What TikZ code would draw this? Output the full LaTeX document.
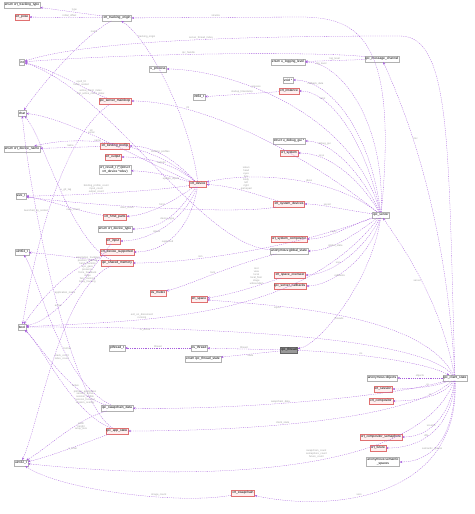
\documentclass[tikz,border=0pt]{standalone}
\usepackage{fontspec}
\setmainfont{Liberation Sans}
\usetikzlibrary{arrows.meta}
\definecolor{usoLinea}{HTML}{A860DD}
\definecolor{rotuloGris}{HTML}{A0A0A0}
\definecolor{rojoBorde}{HTML}{E07070}
\definecolor{rojoClaro}{HTML}{FFF0F0}
\definecolor{grisNodo}{HTML}{999999}
\begin{document}
\begin{tikzpicture}[x=1pt,y=-1pt,
    cls/.style={draw=gray!60, fill=white, line width=0.35pt, inner sep=0.9pt, minimum height=5.6pt, font=\fontsize{3.3}{3.8}\selectfont, align=center},
    clsr/.style={cls, draw=rojoBorde, fill=rojoClaro},
    cur/.style={cls, draw=gray!80!black, fill=grisNodo},
    use/.style={draw=usoLinea, line width=0.3pt, dash pattern=on 1.2pt off 1pt, -{Stealth[length=2.6pt,width=2.2pt]}},
    lbl/.style={font=\fontsize{2.6}{2.9}\selectfont, text=rotuloGris, align=center, inner sep=0.5pt}
  ]
  \useasboundingbox (0,0) rectangle (474,514);
  % nodos
  \node[cls] (ttype) at (22,5) {enum xrt\_tracking\_type};
  \node[clsr] (pose) at (22,17) {xrt\_pose};
  \node[cls] (torig) at (117,18) {xrt\_tracking\_origin};
  \node[cls] (int) at (22,62) {int};
  \node[cls] (uproc) at (158,69) {u\_process};
  \node[clsr] (mainloop) at (115,101) {ipc\_server\_mainloop};
  \node[cls] (char) at (22,113) {char};
  \node[cls] (loglevel) at (288,62) {enum u\_logging\_level};
  \node[cls] (msgch) at (382,59) {ipc\_message\_channel};
  \node[cls] (voidp) at (288,80) {void *};
  \node[clsr] (inst) at (289,91) {xrt\_instance};
  \node[cls] (int64) at (199,97) {int64\_t};
  \node[cls] (devname) at (22,149) {enum xrt\_device\_name};
  \node[clsr] (bprof) at (115,146) {xrt\_binding\_profile};
  \node[clsr] (output) at (113,157) {xrt\_output};
  \node[cls] (fnptr) at (115,170) {xrt\_result\_t (*)(struct\\xrt\_device *xdev)};
  \node[cls] (dbg) at (289,141) {struct u\_debug\_gui *};
  \node[clsr] (sys) at (289,153) {xrt\_system};
  \node[clsr] (dev) at (198,184) {xrt\_device};
  \node[cls] (size) at (21,196) {size\_t};
  \node[clsr] (sysd) at (289,204) {xrt\_system\_devices};
  \node[cls] (server) at (381,215) {ipc\_server};
  \node[clsr] (hmd) at (115,217) {xrt\_hmd\_parts};
  \node[cls] (devtype) at (115,229) {enum xrt\_device\_type};
  \node[clsr] (sysc) at (289,239) {xrt\_system\_compositor};
  \node[clsr] (input) at (113,241) {xrt\_input};
  \node[cls] (glob) at (289,251) {anonymous:global\_state};
  \node[clsr] (supp) at (117,252) {xrt\_device\_supported};
  \node[cls] (u64) at (22,252) {uint64\_t};
  \node[clsr] (shm) at (117,263) {ipc\_shared\_memory};
  \node[clsr] (xso) at (290,275) {xrt\_space\_overseer};
  \node[clsr] (cb) at (290,286) {ipc\_server\_callbacks};
  \node[clsr] (mutex) at (158,293) {os\_mutex};
  \node[clsr] (space) at (199,299) {xrt\_space};
  \node[cls] (bool) at (22,327) {bool};
  \node[cls] (pth) at (117,348) {pthread\_t};
  \node[cls] (osth) at (199,348) {os\_thread};
  \node[cur] (ipcth) at (289,350) {ipc\_thread};
  \node[cls] (thstate) at (203,359) {enum ipc\_thread\_state};
  \node[cls] (objs) at (382,378) {anonymous:objects};
  \node[cls] (ics) at (455,378) {ipc\_client\_state};
  \node[clsr] (sess) at (383,389) {xrt\_session};
  \node[clsr] (comp) at (381,401) {xrt\_compositor};
  \node[cls] (swd) at (117,408) {ipc\_swapchain\_data};
  \node[clsr] (app) at (117,431) {ipc\_app\_state};
  \node[clsr] (sem) at (381,437) {xrt\_compositor\_semaphore};
  \node[clsr] (fut) at (378,448) {xrt\_future};
  \node[cls] (semsp) at (383,462) {anonymous:semantic\\\_spaces};
  \node[cls] (u32) at (21,463) {uint32\_t};
  \node[clsr] (swc) at (243,493) {xrt\_swapchain};

  % xrt_tracking_origin
  \draw[use] (torig) -- node[lbl,above,pos=0.45]{type} (ttype);
  \draw[use] (torig) -- node[lbl,above,pos=0.45]{initial\_offset} (pose);
  \draw[use] (torig) .. controls (85,35) and (45,80) .. node[lbl,pos=0.2,above]{name} (char);
  \draw[use] (dev) .. controls (190,120) and (150,40) .. node[lbl,pos=0.82,right]{tracking\_origin} (torig);
  \draw[use] (server) .. controls (398,40) and (360,17) .. (300,17) -- node[lbl,above]{xtracks} (torig);

  % int
  \draw[use] (msgch) .. controls (330,52) and (150,52) .. node[lbl,above,pos=0.6]{ipc\_handle} (int);
  \draw[use] (ics) .. controls (448,150) and (452,36) .. (400,36) .. controls (250,36) and (90,40) .. node[lbl,above,pos=0.45]{server\_thread\_index} (int);
  \draw[use] (mainloop) .. controls (85,90) and (55,70) .. node[lbl,pos=0.35,above]{epoll\_fd\\listen\_socket} (int);
  \draw[use] (glob) .. controls (200,245) and (110,90) .. node[lbl,pos=0.8,right]{active\_client\_index\\last\_active\_client\_index} (int);

  % char
  \draw[use] (dev) .. controls (150,165) and (70,118) .. node[lbl,pos=0.6,above]{str\\serial} (char);
  \draw[use] (shm) .. controls (70,240) and (45,140) .. node[lbl,pos=0.5,right]{u\_git\_tag} (char);
  \draw[use] (app) .. controls (70,400) and (30,200) .. node[lbl,pos=0.5,right]{application\_name} (char);

  % enum xrt_device_name
  \draw[use] (dev) .. controls (150,140) and (80,135) .. node[lbl,pos=0.6,above]{name} (devname);
  \draw[use] (bprof) -- node[lbl,above]{name} (devname);

  % xrt_device
  \draw[use] (dev) .. controls (170,155) and (150,146) .. node[lbl,pos=0.5,above]{binding\_profiles} (bprof);
  \draw[use] (dev) .. controls (175,165) and (150,157) .. node[lbl,pos=0.5]{outputs} (output);
  \draw[use] (dev) .. controls (175,178) and (160,172) .. node[lbl,pos=0.4,below]{update\_inputs} (fnptr);
  \draw[use] (dev) .. controls (150,192) and (60,196) .. node[lbl,above,pos=0.55]{binding\_profile\_count\\input\_count\\output\_count} (size);
  \draw[use] (dev) .. controls (175,200) and (150,215) .. node[lbl,pos=0.5,above]{hmd} (hmd);
  \draw[use] (dev) .. controls (180,210) and (165,229) .. node[lbl,pos=0.55]{device\_type} (devtype);
  \draw[use] (dev) .. controls (185,220) and (150,241) .. node[lbl,pos=0.6]{inputs} (input);
  \draw[use] (dev) .. controls (190,230) and (165,252) .. node[lbl,pos=0.6]{supported} (supp);
  \draw[use] (sysd) .. controls (260,196) and (235,186) .. node[lbl,above=1pt,pos=0.5]{xdevs\\head\\eyes\\face\\body\\left\\right\\gamepad} (dev);
  \draw[use] (server) .. controls (330,175) and (250,172) .. node[lbl,pos=0.4,above]{idevs} (dev);

  % size_t
  \draw[use] (sysd) .. controls (240,215) and (80,205) .. node[lbl,pos=0.6,below]{xdev\_count} (size);
  \draw[use] (hmd) .. controls (80,212) and (50,200) .. node[lbl,pos=0.4,below]{view\_count} (size);

  % int64_t y uint64_t
  \draw[use] (inst) -- node[lbl,above]{startup\_timestamp} (int64);
  \draw[use] (swd) .. controls (60,380) and (40,280) .. node[lbl,pos=0.4,right]{format} (u64);
  \draw[use] (shm) .. controls (80,258) and (50,254) .. (u64);

  % bool
  \draw[use] (supp) .. controls (70,265) and (40,300) .. node[lbl,pos=0.3,right]{orientation\_tracking\\position\_tracking\\hand\_tracking\\eye\_gaze\\presence\\force\_feedback\\stage\\face\_tracking\\body\_tracking} (bool);
  \draw[use] (input) .. controls (70,300) and (50,320) .. node[lbl,pos=0.55,above]{active} (bool);
  \draw[use] (ics) .. controls (420,335) and (200,327) .. node[lbl,pos=0.78,below]{io\_active} (bool);
  \draw[use] (mainloop) .. controls (55,140) and (30,280) .. node[lbl,pos=0.5,left]{launched\_by\_socket} (bool);
  \draw[use] (app) .. controls (70,410) and (45,350) .. node[lbl,pos=0.35,right]{primary\_application\\session\_active\\session\_visible\\session\_focused\\session\_overlay} (bool);
  \draw[use] (swd) .. controls (70,395) and (40,345) .. node[lbl,pos=0.3,above]{active} (bool);
  \draw[use] (server) .. controls (300,320) and (150,320) .. node[lbl,pos=0.7,above]{exit\_on\_disconnect\\running} (bool);

  % uint32_t
  \draw[use] (swd) .. controls (75,420) and (45,450) .. node[lbl,pos=0.35,right]{width\\height\\array\_size} (u32);
  \draw[use] (app) .. controls (80,445) and (45,458) .. node[lbl,pos=0.4,below]{z\_order} (u32);
  \draw[use] (shm) .. controls (60,290) and (40,420) .. node[lbl,pos=0.5,right]{itrack\_count\\isdev\_count} (u32);
  \draw[use] (ics) .. controls (420,475) and (200,482) .. node[lbl,pos=0.45,above=2pt]{swapchain\_count\\semaphore\_count\\future\_count} (u32);
  \draw[use] (swc) .. controls (180,505) and (60,490) .. node[lbl,pos=0.35,above]{image\_count} (u32);

  % ipc_server
  \draw[use] (server) .. controls (365,140) and (330,91) .. node[lbl,pos=0.75,above]{xinst} (inst);
  \draw[use] (server) .. controls (370,130) and (330,80) .. node[lbl,pos=0.8,above]{callback\_data} (voidp);
  \draw[use] (server) .. controls (385,120) and (340,62) .. node[lbl,pos=0.85,above]{log\_level} (loglevel);
  \draw[use] (server) .. controls (360,170) and (330,141) .. node[lbl,pos=0.75,above]{debug\_gui} (dbg);
  \draw[use] (server) .. controls (360,180) and (330,153) .. node[lbl,pos=0.75,above]{xsys} (sys);
  \draw[use] (server) .. controls (345,210) and (320,204) .. node[lbl,pos=0.6,above]{xsysd} (sysd);
  \draw[use] (server) .. controls (350,225) and (330,239) .. node[lbl,pos=0.6,above]{xsysc} (sysc);
  \draw[use] (server) .. controls (355,235) and (330,251) .. node[lbl,pos=0.6,below]{global\_state} (glob);
  \draw[use] (server) .. controls (365,250) and (330,275) .. node[lbl,pos=0.6,above]{xso} (xso);
  \draw[use] (server) .. controls (370,260) and (330,286) .. node[lbl,pos=0.6,below]{callbacks} (cb);
  \draw[use] (server) .. controls (300,150) and (200,101) .. node[lbl,pos=0.75,above]{ml} (mainloop);
  \draw[use] (server) .. controls (300,245) and (200,263) .. node[lbl,pos=0.7,above]{ism} (shm);
  \draw[use] (server) .. controls (372,280) and (320,345) .. node[lbl,pos=0.6,right]{threads} (ipcth);
  \draw[use] (server) .. controls (350,105) and (220,69) .. node[lbl,pos=0.6,above]{process} (uproc);
  \draw[use] (msgch) -- node[lbl,above]{log\_level} (loglevel);
  \draw[use] (glob) .. controls (230,265) and (190,285) .. node[lbl,pos=0.5,above]{lock} (mutex);
  \draw[use] (xso) .. controls (260,285) and (230,295) .. node[lbl,pos=0.35,above=1pt]{root\\view\\local\\local\_floor\\stage\\unbounded} (space);

  % ipc_client_state
  \draw[use] (ics) .. controls (440,300) and (405,250) .. node[lbl,pos=0.5,left]{server} (server);
  \draw[use] (ics) .. controls (445,200) and (400,100) .. node[lbl,pos=0.6,right]{imc} (msgch);
  \draw[use] (ics) -- node[lbl,above]{objects} (objs);
  \draw[use] (ics) .. controls (440,385) and (420,389) .. node[lbl,above]{xs} (sess);
  \draw[use] (ics) .. controls (445,395) and (420,401) .. node[lbl,above]{xc} (comp);
  \draw[use] (ics) .. controls (450,415) and (430,437) .. node[lbl,above,pos=0.6]{xcsems} (sem);
  \draw[use] (ics) .. controls (452,425) and (425,448) .. node[lbl,above,pos=0.6]{xfts} (fut);
  \draw[use] (ics) .. controls (455,440) and (430,462) .. node[lbl,above,pos=0.6]{semantic\_spaces} (semsp);
  \draw[use] (ics) .. controls (460,500) and (330,512) .. node[lbl,pos=0.6,above]{xscs} (swc);
  \draw[use] (ics) .. controls (400,395) and (250,410) .. node[lbl,pos=0.6,above]{swapchain\_data} (swd);
  \draw[use] (ics) .. controls (410,420) and (250,431) .. node[lbl,pos=0.6,above]{client\_state} (app);
  \draw[use] (ics) .. controls (420,310) and (260,305) .. node[lbl,pos=0.7,below]{xspcs} (space);

  % ipc_thread
  \draw[use] (ipcth) -- node[lbl,above]{thread} (osth);
  \draw[use] (ipcth) -- node[lbl,below]{state} (thstate);
  \draw[use] (ipcth) .. controls (340,352) and (420,360) .. node[lbl,pos=0.4,above]{ics} (ics);
  \draw[use] (osth) -- node[lbl,above]{thread} (pth);
\end{tikzpicture}
\end{document}
